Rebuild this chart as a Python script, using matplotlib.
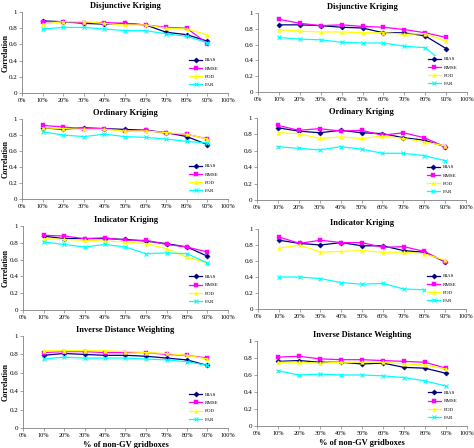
import numpy as np
import matplotlib
matplotlib.use("Agg")
import matplotlib.pyplot as plt

plt.rcParams['font.family'] = ['Liberation Serif', 'DejaVu Serif']

x = [10, 20, 30, 40, 50, 60, 70, 80, 90]
series_names = ["BIAS", "RMSE", "POD", "FAR"]
titles = ["Disjunctive Kriging", "Ordinary Kriging",
          "Indicator Kriging", "Inverse Distance Weighting"]

# left column
dk_left_bias = [0.89, 0.88, 0.86, 0.85, 0.86, 0.84, 0.75, 0.72, 0.64]
dk_left_rmse = [0.88, 0.88, 0.87, 0.87, 0.86, 0.84, 0.81, 0.80, 0.61]
dk_left_pod = [0.85, 0.88, 0.88, 0.86, 0.84, 0.84, 0.80, 0.79, 0.72]
dk_left_far = [0.79, 0.81, 0.81, 0.79, 0.77, 0.77, 0.73, 0.70, 0.62]

ok_left_bias = [0.89, 0.87, 0.89, 0.88, 0.87, 0.86, 0.83, 0.78, 0.68]
ok_left_rmse = [0.92, 0.90, 0.88, 0.88, 0.85, 0.86, 0.82, 0.81, 0.75]
ok_left_pod = [0.89, 0.88, 0.87, 0.87, 0.85, 0.85, 0.83, 0.81, 0.75]
ok_left_far = [0.84, 0.80, 0.78, 0.81, 0.78, 0.77, 0.75, 0.72, 0.70]

ik_left_bias = [0.88, 0.85, 0.85, 0.85, 0.84, 0.82, 0.79, 0.75, 0.64]
ik_left_rmse = [0.89, 0.88, 0.85, 0.86, 0.83, 0.83, 0.78, 0.75, 0.69]
ik_left_pod = [0.85, 0.84, 0.83, 0.82, 0.81, 0.79, 0.73, 0.63, 0.56]
ik_left_far = [0.81, 0.78, 0.75, 0.78, 0.75, 0.67, 0.68, 0.67, 0.56]

idw_left_bias = [0.79, 0.81, 0.80, 0.79, 0.79, 0.78, 0.76, 0.74, 0.68]
idw_left_rmse = [0.82, 0.83, 0.83, 0.82, 0.82, 0.82, 0.80, 0.79, 0.76]
idw_left_pod = [0.84, 0.84, 0.84, 0.84, 0.83, 0.82, 0.81, 0.79, 0.75]
idw_left_far = [0.75, 0.77, 0.76, 0.76, 0.76, 0.75, 0.74, 0.72, 0.68]

# right column
dk_right_bias = [0.85, 0.85, 0.84, 0.82, 0.81, 0.75, 0.75, 0.71, 0.55]
dk_right_rmse = [0.92, 0.87, 0.84, 0.85, 0.83, 0.82, 0.79, 0.75, 0.69]
dk_right_pod = [0.79, 0.77, 0.76, 0.76, 0.75, 0.75, 0.73, 0.74, 0.64]
dk_right_far = [0.69, 0.67, 0.66, 0.63, 0.62, 0.62, 0.58, 0.56, 0.35]

ok_right_bias = [0.88, 0.84, 0.82, 0.85, 0.82, 0.81, 0.76, 0.73, 0.65]
ok_right_rmse = [0.91, 0.85, 0.87, 0.84, 0.85, 0.79, 0.82, 0.76, 0.65]
ok_right_pod = [0.82, 0.81, 0.75, 0.77, 0.75, 0.78, 0.75, 0.71, 0.66]
ok_right_far = [0.65, 0.63, 0.61, 0.65, 0.62, 0.57, 0.57, 0.54, 0.48]

ik_right_bias = [0.86, 0.82, 0.80, 0.83, 0.79, 0.79, 0.73, 0.71, 0.59]
ik_right_rmse = [0.90, 0.82, 0.86, 0.83, 0.83, 0.77, 0.78, 0.72, 0.59]
ik_right_pod = [0.76, 0.80, 0.71, 0.72, 0.73, 0.71, 0.71, 0.69, 0.61]
ik_right_far = [0.40, 0.40, 0.38, 0.33, 0.31, 0.32, 0.25, 0.24, 0.23]

idw_right_bias = [0.76, 0.77, 0.75, 0.75, 0.73, 0.74, 0.69, 0.68, 0.62]
idw_right_rmse = [0.81, 0.82, 0.79, 0.78, 0.78, 0.77, 0.76, 0.75, 0.68]
idw_right_pod = [0.75, 0.75, 0.74, 0.75, 0.75, 0.75, 0.73, 0.72, 0.67]
idw_right_far = [0.65, 0.60, 0.61, 0.60, 0.60, 0.59, 0.57, 0.53, 0.47]

left_data = [
    [dk_left_bias, dk_left_rmse, dk_left_pod, dk_left_far],
    [ok_left_bias, ok_left_rmse, ok_left_pod, ok_left_far],
    [ik_left_bias, ik_left_rmse, ik_left_pod, ik_left_far],
    [idw_left_bias, idw_left_rmse, idw_left_pod, idw_left_far],
]
right_data = [
    [dk_right_bias, dk_right_rmse, dk_right_pod, dk_right_far],
    [ok_right_bias, ok_right_rmse, ok_right_pod, ok_right_far],
    [ik_right_bias, ik_right_rmse, ik_right_pod, ik_right_far],
    [idw_right_bias, idw_right_rmse, idw_right_pod, idw_right_far],
]

colors = ["#000080", "#FF00FF", "#FFFF00", "#00FFFF"]
markers = ["D", "s", "^", "x"]

W, H = 474, 448
fig = plt.figure(figsize=(W / 100, H / 100), dpi=100)

# axes boxes in pixels: left, right, top, bottom
left_boxes = [(22, 228, 12, 93), (22, 228, 119, 199), (23, 228, 226, 310), (23, 228, 336, 428)]
right_boxes = [(258, 467, 13, 92), (257, 466, 118, 200), (258, 466, 229, 309), (257, 467, 341, 426)]


def draw(box, data, title, ylabel, xlabel):
    l, r, t, b = box
    ax = fig.add_axes([l / W, 1 - b / H, (r - l) / W, (b - t) / H])
    for vals, name, c, m in zip(data, series_names, colors, markers):
        ax.plot(x, vals, color=c, marker=m, markersize=2.7, lw=0.9,
                markeredgewidth=0.8 if m == "x" else 0.3, label=name)
    ax.set_xlim(0, 100)
    ax.set_ylim(0, 1)
    ax.set_xticks(np.arange(0, 101, 10))
    ax.set_xticklabels([f"{v}%" for v in range(0, 101, 10)], fontsize=4.5)
    ax.set_yticks([0, 0.2, 0.4, 0.6, 0.8, 1])
    ax.set_yticklabels(["0", "0.2", "0.4", "0.6", "0.8", "1"], fontsize=5)
    for s in ["top", "right"]:
        ax.spines[s].set_visible(False)
    for s in ["left", "bottom"]:
        ax.spines[s].set_color("#808080")
        ax.spines[s].set_linewidth(0.6)
    ax.tick_params(length=2, width=0.5, color="#808080", pad=1.5)
    ax.set_title(title, fontsize=6, fontweight="bold", pad=3)
    if ylabel:
        ax.set_ylabel("Correlation", fontsize=5.5, fontweight="bold")
        ax.yaxis.set_label_coords((9.5 - l) / (r - l), 0.5)
    if xlabel:
        ax.set_xlabel("% of non-GV gridboxes", fontsize=6, fontweight="bold", labelpad=2)
    ax.legend(loc="lower right", bbox_to_anchor=(0.97, 0.03), fontsize=3.6,
              frameon=True, edgecolor="none", facecolor="white", framealpha=1,
              handlelength=2.6, labelspacing=0.75, borderpad=0.2, handletextpad=0.5)
    return ax


for i in range(4):
    draw(left_boxes[i], left_data[i], titles[i], True, i == 3)
    draw(right_boxes[i], right_data[i], titles[i], False, i == 3)

fig.savefig("out.png", dpi=100)
